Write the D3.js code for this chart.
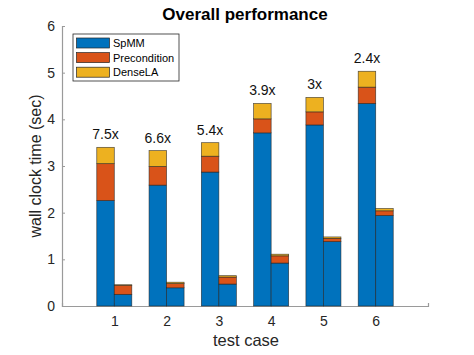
<!DOCTYPE html>
<html><head><meta charset="utf-8">
<script src="https://cdn.jsdelivr.net/npm/d3@7/dist/d3.min.js"></script>
<style>body{margin:0;background:#fff}svg{display:block}text{font-family:"Liberation Sans",Arial,sans-serif}</style>
</head><body>
<script>
const categories = [1, 2, 3, 4, 5, 6];
const seriesNames = ["SpMM", "Precondition", "DenseLA"];
const colors = ["#0072BD", "#D95319", "#EDB120"];
// left bar of each group (baseline)
const spmmA = [2.26, 2.59, 2.87, 3.71, 3.88, 4.34];
const precA = [0.79, 0.40, 0.34, 0.30, 0.28, 0.35];
const denseA = [0.35, 0.34, 0.29, 0.33, 0.31, 0.34];
// right bar of each group (optimized)
const spmmB = [0.25, 0.39, 0.47, 0.92, 1.38, 1.94];
const precB = [0.195, 0.09, 0.15, 0.155, 0.07, 0.10];
const denseB = [0.01, 0.03, 0.03, 0.035, 0.03, 0.05];
const speedups = ["7.5x", "6.6x", "5.4x", "3.9x", "3x", "2.4x"];
const yTicks = [0, 1, 2, 3, 4, 5, 6];

const W = 474, H = 355;
const svg = d3.select("body").append("svg").attr("width", W).attr("height", H);
const mL = 62, mR = 428, mT = 26, mB = 306;
const x = d3.scaleLinear().domain([0, 7]).range([mL, mR]);
const y = d3.scaleLinear().domain([0, 6]).range([mB, mT]);
const bw = 0.335;

// axes
const yAxis = d3.axisLeft(y).tickValues(yTicks).tickSize(-3).tickPadding(7).tickFormat(d3.format("d"));
const xAxis = d3.axisBottom(x).tickValues(categories).tickSize(-3).tickPadding(10).tickFormat(d3.format("d"));
const ga = svg.append("g");
const gy = ga.append("g").attr("transform", `translate(${mL},0)`).call(yAxis);
const gx = ga.append("g").attr("transform", `translate(0,${mB})`).call(xAxis);
[gy, gx].forEach(g => {
  g.select(".domain").attr("stroke", "#9a9a9a").attr("stroke-width", 1.2);
  g.selectAll(".tick line").attr("stroke", "#9a9a9a");
  g.selectAll(".tick text").attr("fill", "#262626").style("font-size", "14px");
});

// stacked bars
const groups = [
  {off: -bw, vals: [spmmA, precA, denseA]},
  {off: 0, vals: [spmmB, precB, denseB]}
];
const barsG = svg.append("g");
groups.forEach(g => {
  categories.forEach((c, i) => {
    let base = 0;
    g.vals.forEach((arr, s) => {
      const v = arr[i];
      barsG.append("rect")
        .attr("x", x(c + g.off))
        .attr("width", x(bw) - x(0))
        .attr("y", y(base + v))
        .attr("height", y(base) - y(base + v))
        .attr("fill", colors[s])
        .attr("stroke", "#1f1f1f").attr("stroke-opacity", 0.75).attr("stroke-width", 0.7);
      base += v;
    });
  });
});

// speedup labels
categories.forEach((c, i) => {
  const tot = spmmA[i] + precA[i] + denseA[i];
  svg.append("text").attr("x", x(c - bw / 2)).attr("y", y(tot + 0.28))
    .attr("text-anchor", "middle").attr("dominant-baseline", "central")
    .attr("fill", "#111").style("font-size", "14px").text(speedups[i]);
});

// title & labels
svg.append("text").attr("x", 245).attr("y", 20).attr("text-anchor", "middle")
  .style("font-size", "17px").style("font-weight", "bold").attr("fill", "#000").text("Overall performance");
svg.append("text").attr("x", 246).attr("y", 346).attr("text-anchor", "middle")
  .style("font-size", "16.5px").attr("fill", "#262626").text("test case");
svg.append("text").attr("transform", `translate(41,${(mT + mB) / 2}) rotate(-90)`)
  .attr("text-anchor", "middle").style("font-size", "16px").attr("fill", "#262626").text("wall clock time (sec)");

// legend
const lg = svg.append("g").attr("transform", "translate(73,34)");
lg.append("rect").attr("width", 106).attr("height", 47).attr("fill", "#fff").attr("stroke", "#262626").attr("stroke-width", 0.8);
seriesNames.forEach((n, i) => {
  const yy = 4 + i * 14.6;
  lg.append("rect").attr("x", 3.5).attr("y", yy).attr("width", 33).attr("height", 10)
    .attr("fill", colors[i]).attr("stroke", "#262626").attr("stroke-width", 0.7);
  lg.append("text").attr("x", 40).attr("y", yy + 5).attr("dominant-baseline", "central")
    .style("font-size", "11px").attr("fill", "#000").text(n);
});
</script>
</body></html>
